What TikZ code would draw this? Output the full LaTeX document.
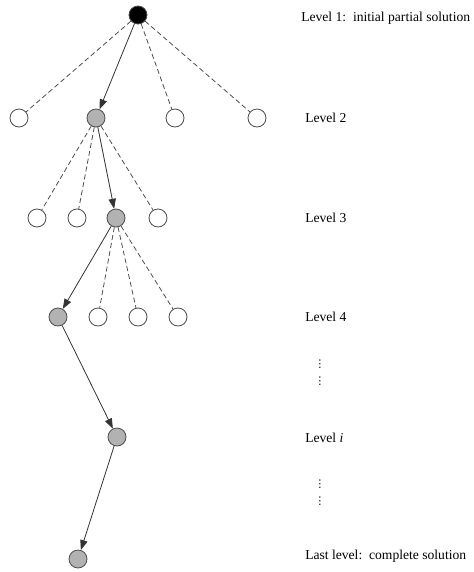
\documentclass[tikz,border=0pt]{standalone}
\usepackage{fontspec}
\setmainfont{Liberation Serif}
\newfontfamily\symfont{DejaVu Sans}
\usetikzlibrary{arrows.meta}
\begin{document}
\begin{tikzpicture}[x=0.75pt,y=-0.75pt,
  nd/.style={circle,draw=black!70,line width=0.6pt,minimum size=13.5pt,inner sep=0pt},
  opennd/.style={nd,fill=white},
  curnd/.style={nd,fill=black!30},
  rootnd/.style={nd,fill=black},
  dsh/.style={draw=black!70,line width=0.6pt,dash pattern=on 3.75pt off 2.25pt},
  arr/.style={draw=black!80,line width=0.6pt,-{Triangle[length=7.5pt,width=5.5pt]}},
  lab/.style={anchor=west,inner sep=0pt,font=\fontsize{10.2}{12}\selectfont},
  dotsnd/.style={inner sep=0pt,font=\symfont\fontsize{8}{9}\selectfont}]
\useasboundingbox (0,0) rectangle (474,572);
% level 1
\node[rootnd] (r) at (138,15) {};
% level 2
\node[opennd] (a1) at (19,118) {};
\node[curnd]  (a2) at (96,118) {};
\node[opennd] (a3) at (175,118) {};
\node[opennd] (a4) at (257,118) {};
% level 3
\node[opennd] (b1) at (37,218) {};
\node[opennd] (b2) at (77,218) {};
\node[curnd]  (b3) at (116,218) {};
\node[opennd] (b4) at (158,218) {};
% level 4
\node[curnd]  (c1) at (58,317) {};
\node[opennd] (c2) at (98,317) {};
\node[opennd] (c3) at (138,317) {};
\node[opennd] (c4) at (178,317) {};
% level i
\node[curnd] (d) at (117,437) {};
% last level
\node[curnd] (e) at (78,559) {};
% connectors
\draw[dsh] (r) -- (a1);
\draw[arr] (r) -- (a2);
\draw[dsh] (r) -- (a3);
\draw[dsh] (r) -- (a4);
\draw[dsh] (a2) -- (b1);
\draw[dsh] (a2) -- (b2);
\draw[arr] (a2) -- (b3);
\draw[dsh] (a2) -- (b4);
\draw[arr] (b3) -- (c1);
\draw[dsh] (b3) -- (c2);
\draw[dsh] (b3) -- (c3);
\draw[dsh] (b3) -- (c4);
\draw[arr] (c1) -- (d);
\draw[arr] (d) -- (e);
% labels
\node[lab] (l1) at (301,18) {Level 1:\ \ initial partial solution};
\node[lab] (l2) at (305,118) {Level 2};
\node[lab] (l3) at (305,218) {Level 3};
\node[lab] (l4) at (305,317) {Level 4};
\node[lab] (li) at (305,438) {Level \textit{i}};
\node[lab] (ll) at (305,556) {Last level:\ \ complete solution};
% vertical dots
\node[dotsnd] (v1) at (320,364) {⋮};
\node[dotsnd] (v2) at (320,381) {⋮};
\node[dotsnd] (v3) at (320,484) {⋮};
\node[dotsnd] (v4) at (320,501) {⋮};
\end{tikzpicture}
\end{document}
